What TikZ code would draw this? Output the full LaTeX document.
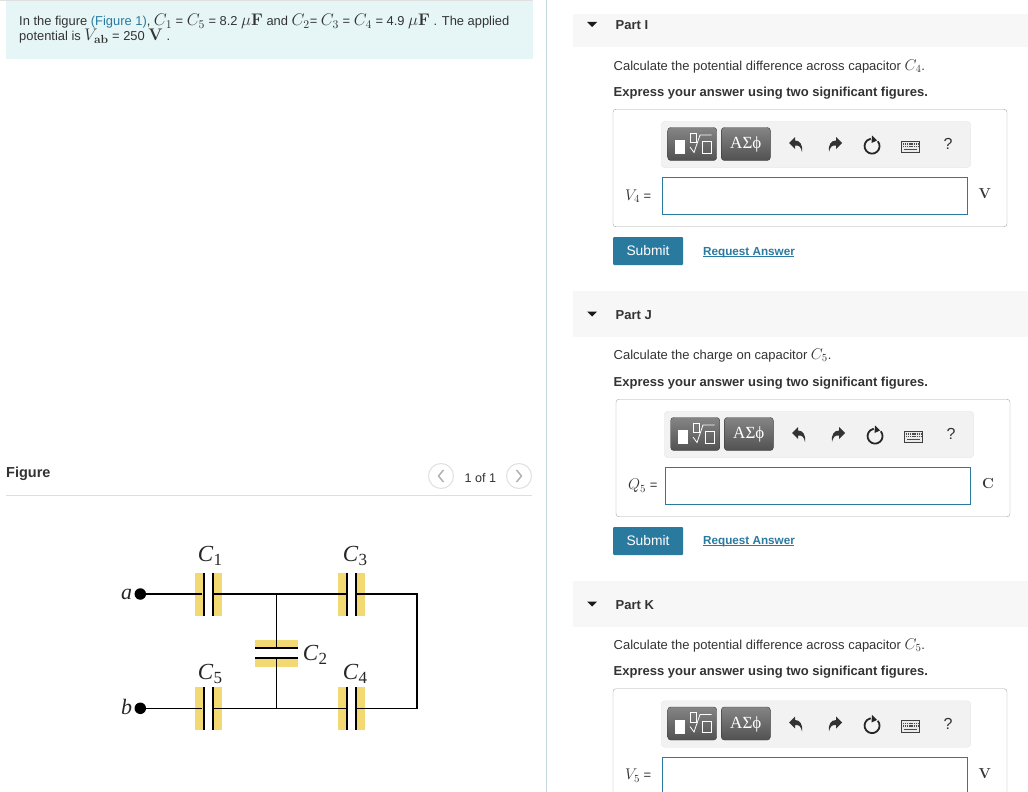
\documentclass[tikz,border=0pt]{standalone}
\usepackage{fix-cm}
\usepackage{amsmath}
\usepackage[no-math]{fontspec}
\setmainfont{Liberation Sans}
\newfontfamily\capfont{Liberation Serif}
\usepackage{tikz}
\usetikzlibrary{positioning}
\definecolor{txtcol}{HTML}{333333}
\definecolor{linkcol}{HTML}{2A7AA0}
\definecolor{padcol}{HTML}{F2D974}
\definecolor{notecol}{HTML}{E6F6F6}
\definecolor{bandcol}{HTML}{F7F7F7}
\definecolor{teal}{HTML}{2A7AA0}
\definecolor{divcol}{HTML}{C5D8E6}
\newcommand{\mtxt}[1]{{\fontsize{15.5}{16}\selectfont$#1$}}
\newcommand{\notem}[1]{{\fontsize{16.8}{16}\selectfont$#1$}}
\newcommand{\caplbl}[1]{\textit{C}\raisebox{-.35ex}{\fontsize{17}{17}\selectfont #1}}
\tikzset{
	txt/.style={font=\fontsize{12.6}{16}\selectfont, text=txtcol, inner sep=0pt, anchor=west, align=left, yshift=-1.7pt},
	asktxt/.style={txt, font=\fontsize{13}{16}\selectfont},
	boldtxt/.style={txt, font=\fontsize{13}{16}\selectfont\bfseries},
	band/.style={fill=bandcol, draw=none, inner sep=0pt, anchor=north west, minimum width=455},
	vplate/.style={fill=black, inner sep=0pt, minimum width=2, minimum height=43},
	hplate/.style={fill=black, inner sep=0pt, minimum width=43, minimum height=2},
	vpad/.style={fill=padcol, inner sep=0pt, minimum width=8.5, minimum height=43},
	hpad/.style={fill=padcol, inner sep=0pt, minimum width=43, minimum height=8.5},
	wire/.style={line width=1.6},
	dot/.style={circle, fill=black, inner sep=0pt, minimum size=11.5},
	caplab/.style={inner sep=0pt, text=black!85, font=\capfont\fontsize{23}{24}\selectfont},
	mathbtn/.style={rounded corners=3, draw=black!75, top color=black!48, bottom color=black!68, inner sep=0pt, minimum width=49, minimum height=33},
	pagebtn/.style={circle, draw=black!12, line width=1, minimum size=25, inner sep=0pt},
	chevron/.style={black!30, line width=1.5},
}
% one input box, with toolbar; #1 name, #2/#3 shift, #4 symbol, #5 unit
\newcommand{\answerbox}[5]{
	\begin{scope}[shift={(#2,#3)}]
		\node[draw=black!35, rounded corners=3, inner sep=0pt, minimum width=394, minimum height=117.5] (#1box) at (810,168) {};
		\node[draw=black!10, fill=black!5, rounded corners=4, inner sep=0pt, minimum width=309.5, minimum height=46.5] (#1bar) at (816,144.5) {};
		\node[mathbtn] (#1root) at (692.2,144) {};
		\node[mathbtn] (#1greek) at (745.8,144) {};
		\node[inner sep=0pt, text=white, font=\capfont\fontsize{17}{17}\selectfont] (#1gtxt) at (745.8,144.5) {ΑΣϕ};
		\fill[white] (675,140) rectangle (685,154);
		\draw[white, line width=.7] (690.7,133.3) rectangle (696.7,142.7);
		\draw[white, line width=.8] (690,147) -- (694,152.5) -- (700,135) -- (711.7,135);
		\draw[white, line width=.7] (702.3,141.7) rectangle (711.3,153.3);
		% undo and redo
		\foreach \sx/\cx in {1/796,-1/835}{
			\fill[black!80, shift={(\cx,144)}, xscale=\sx] (-7,-1) -- (-1,-7) -- (-1,-3.5) .. controls (4,-3.5) and (7,1) .. (6,8) .. controls (5,3) and (3,1) .. (-1,1.5) -- (-1,5) -- cycle;
		}
		\draw[black!85, line width=1.8] (877.8,141.3) arc[start angle=-40, end angle=260, radius=7.5];
		\fill[black!85] (872,135.5) -- (877,140.5) -- (871.5,143) -- cycle;
		\draw[black!75, fill=black!8, line width=.8] (901,141) rectangle (919.5,152.5);
		\draw[black!70, line width=1.1, dash pattern=on 1.2 off .9] (903,144) -- (918,144) (903,146.5) -- (918,146.5);
		\draw[black!70, line width=1] (904,149.6) -- (916.5,149.6);
		\node[txt, font=\fontsize{16}{16}\selectfont, anchor=center, yshift=1.7pt] (#1help) at (948,144) {?};
		\node[draw=teal, fill=white, line width=1, inner sep=0pt, minimum width=305.5, minimum height=36.5] (#1input) at (815,196) {};
		\node[txt, font=\fontsize{13}{16}\selectfont] (#1sym) at (625,194.5) {\mtxt{#4} =};
		\node[inner sep=0pt, text=txtcol, font=\fontsize{14.5}{16}\selectfont] (#1unit) at (985,194) {$\mathbf{#5}$};
	\end{scope}
}
\newcommand{\submitrow}[4]{
	\node[fill=teal, rounded corners=1, text=white, inner sep=0pt, minimum width=70, minimum height=28, font=\fontsize{13.8}{16}\selectfont] (#1submit) at (648,#2) {Submit};
	\node[txt, text=linkcol, font=\fontsize{11.7}{16}\selectfont\bfseries] (#1req) at (703,#3) {Request Answer};
	\draw[linkcol, line width=.8] (703,#4) -- (794,#4);
}
\newcommand{\parthead}[6]{
	\node[band, minimum height=#3] (#1band) at (573,#2) {};
	\fill[black!90] (587,#4-2.5) -- (597,#4-2.5) -- (592,#4+2.5) -- cycle;
	\node[boldtxt] (#1title) at (615.5,#4-1) {#5};
	\node[asktxt] (#1ask) at (613.5,#4+40) {#6};
}
\begin{document}
\begin{tikzpicture}[x=1pt, y=-1pt]
	\useasboundingbox (0,0) rectangle (1028,792);
	\clip (0,0) rectangle (1028,792);
	\fill[white] (0,0) rectangle (1028,792);
	\fill[black!12] (0,0) rectangle (533,1);
	% left column
	\node[fill=notecol, inner sep=0pt, minimum width=527, minimum height=58, anchor=north west] (note) at (6,1) {};
	\node[txt, font=\fontsize{12.9}{16}\selectfont, anchor=north west] (notetxt) at (19,12.5) {In the figure {\color{linkcol}(Figure 1)}, \notem{C_1} = \notem{C_5} = 8.2 \notem{\mu\mathbf{F}} and \notem{C_2}= \notem{C_3} = \notem{C_4} = 4.9 \notem{\mu\mathbf{F}} . The applied\\[-1pt]potential is \notem{V_{\mathbf{ab}}} = 250 \notem{\mathbf{V}} .};
	\node[boldtxt, font=\fontsize{14.5}{16}\selectfont\bfseries] (figlab) at (6,472) {Figure};
	\node[pagebtn] (prev) at (441,476) {};
	\node[txt] (pages) at (464.5,476) {1 of 1};
	\node[pagebtn] (next) at (519,476) {};
	\draw[chevron] (prev.center) ++(2.5,-6) -- ++(-5,6) -- ++(5,6);
	\draw[chevron] (next.center) ++(-2.5,-6) -- ++(5,6) -- ++(-5,6);
	\draw[black!13, line width=1] (6,495.5) -- (532,495.5);
	\fill[divcol] (545.7,0) rectangle (547.3,792);
	% yellow pads
	\foreach \n/\cx/\cy in {c1/208.3/594, c3/351.7/594, c5/208.3/708.3, c4/351.7/708.3}{
		\node[vpad] (\n l) at (\cx-9.3,\cy) {};
		\node[vpad] (\n r) at (\cx+9.3,\cy) {};
		\node[vplate] (\n a) at (\cx-4.7,\cy) {};
		\node[vplate] (\n b) at (\cx+4.7,\cy) {};
	}
	\node[hpad] (c2t) at (276.3,644.3) {};
	\node[hpad] (c2d) at (276.3,662.3) {};
	\node[hplate] (c2a) at (276.3,648.3) {};
	\node[hplate] (c2b) at (276.3,657.7) {};
	% wires
	\node[dot] (a) at (140.3,594) {};
	\node[dot] (b) at (140.3,708.3) {};
	\coordinate (ja) at (276.3,594);
	\coordinate (jb) at (276.3,708.3);
	\coordinate (ra) at (416.7,594);
	\coordinate (rb) at (416.7,708.3);
	\draw[wire] (a) -- (c1a);
	\draw[wire] (c1b) -- (ja) -- (c3a);
	\draw[wire, line cap=rect] (c3b) -- (ra) -- (rb) -- (c4b);
	\draw[wire] (b) -- (c5a);
	\draw[wire] (c5b) -- (jb) -- (c4a);
	\draw[wire] (ja) -- (c2a);
	\draw[wire] (c2b) -- (jb);
	% labels
	\node[caplab] (lc1) at (210,556) {\caplbl{1}};
	\node[caplab] (lc3) at (355,556) {\caplbl{3}};
	\node[caplab] (lc5) at (210,674) {\caplbl{5}};
	\node[caplab] (lc4) at (355,674) {\caplbl{4}};
	\node[caplab] (lc2) at (315,655) {\caplbl{2}};
	\node[caplab, font=\capfont\itshape\fontsize{22}{22}\selectfont] (la) at (126.5,594) {a};
	\node[caplab, font=\capfont\itshape\fontsize{22}{22}\selectfont] (lb) at (126.5,707) {b};
	% right column
	\parthead{i}{14}{33}{24.5}{Part I}{Calculate the potential difference across capacitor \mtxt{C_4}.}
	\node[boldtxt] (iexp) at (613.5,91) {Express your answer using two significant figures.};
	\answerbox{i}{0}{0}{V_4}{V}
	\submitrow{i}{251}{250.5}{256.5}
	\parthead{j}{291}{46}{314}{Part J}{Calculate the charge on capacitor \mtxt{C_5}.}
	\node[boldtxt] (jexp) at (613.5,381) {Express your answer using two significant figures.};
	\answerbox{j}{3}{290}{Q_5}{C}
	\submitrow{j}{541}{539.5}{545.5}
	\parthead{k}{581}{46}{604}{Part K}{Calculate the potential difference across capacitor \mtxt{C_5}.}
	\node[boldtxt] (kexp) at (613.5,670.5) {Express your answer using two significant figures.};
	\answerbox{k}{0}{579.5}{V_5}{V}
\end{tikzpicture}
\end{document}
